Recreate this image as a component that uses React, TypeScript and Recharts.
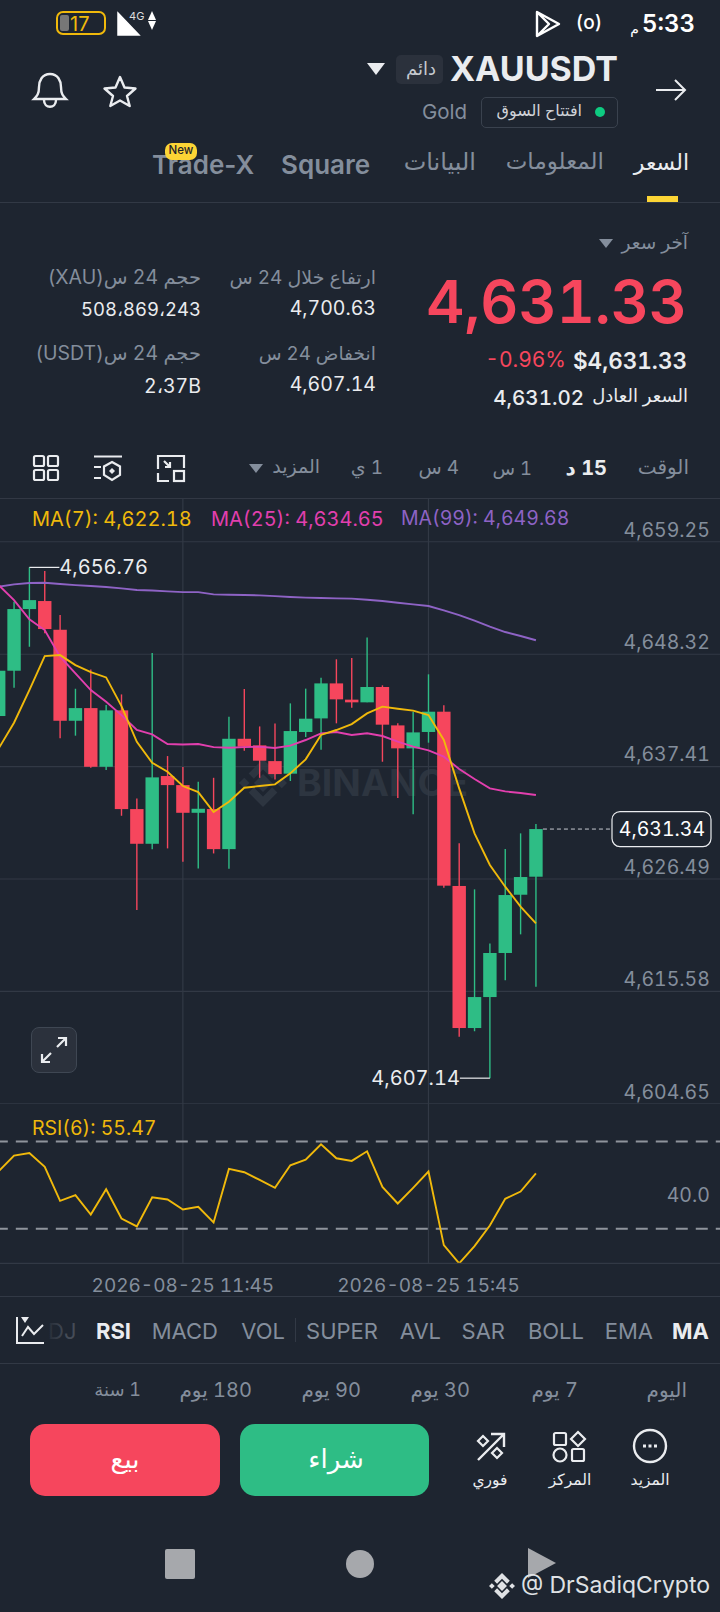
import React from "react";
import {
  ComposedChart,
  Bar,
  Line,
  XAxis,
  YAxis,
  CartesianGrid,
  ReferenceLine,
  ReferenceDot,
} from "recharts";

const times = [
  "08:45", "09:00", "09:15", "09:30", "09:45", "10:00", "10:15", "10:30", "10:45", "11:00", "11:15", "11:30",
  "11:45", "12:00", "12:15", "12:30", "12:45", "13:00", "13:15", "13:30", "13:45", "14:00", "14:15", "14:30",
  "14:45", "15:00", "15:15", "15:30", "15:45", "16:00", "16:15", "16:30", "16:45", "17:00", "17:15", "17:30",
  "17:45", "18:00", "18:15", "18:30", "18:45", "19:00", "19:15", "19:30", "19:45", "20:00", "20:15", "20:30",
];
const opens = [
  4642.32, 4646.72, 4652.71, 4653.49, 4650.7, 4641.86, 4643.09, 4637.39, 4642.87, 4633.28, 4629.91, 4636.49,
  4635.61, 4632.92, 4633.28, 4629.39, 4640.11, 4639.47, 4637.94, 4636.72, 4640.77, 4642.09, 4645.49, 4643.91,
  4643.65, 4645.14, 4641.41, 4639.18, 4640.77, 4642.74, 4625.81, 4612.01, 4615.02, 4619.3, 4624.96, 4626.71,
];
const highs = [
  4647.11, 4653.42, 4656.76, 4656.4, 4652.13, 4644.97, 4646.85, 4643.38, 4644.42, 4634.32, 4648.44, 4638.43,
  4637.36, 4635.94, 4636.32, 4642.25, 4644.94, 4641.31, 4641.6, 4643.55, 4644.98, 4646.04, 4647.83, 4647.96,
  4649.96, 4645.3, 4641.61, 4642.74, 4646.37, 4643.36, 4629.95, 4625.48, 4620.23, 4629.4, 4630.92, 4631.83,
];
const lows = [
  4641.28, 4645.07, 4649.05, 4650.35, 4640.15, 4640.41, 4637.3, 4637.07, 4632.63, 4623.47, 4629.39, 4629.46,
  4628.16, 4627.52, 4628.97, 4627.48, 4638.95, 4636.32, 4636.16, 4636.01, 4640.28, 4639.05, 4641.61, 4643.13,
  4643.65, 4637.88, 4634.35, 4632.77, 4639.73, 4625.64, 4611.17, 4611.69, 4607.14, 4616.64, 4621.11, 4616.03,
];
const closes = [
  4646.72, 4652.71, 4653.58, 4650.77, 4641.86, 4643.09, 4637.39, 4642.87, 4633.28, 4629.91, 4636.36, 4635.61,
  4632.92, 4633.31, 4629.39, 4640.11, 4639.34, 4637.98, 4636.68, 4640.86, 4642.06, 4645.49, 4643.94, 4643.65,
  4645.14, 4641.48, 4639.18, 4640.73, 4642.74, 4625.84, 4612.01, 4615.02, 4619.3, 4624.93, 4626.68, 4631.34,
];
const ma7 = [
  4639.17, 4641.67, 4644.84, 4648.14, 4648.24, 4647.27, 4646.59, 4646.07, 4643.29, 4639.82, 4637.78, 4636.91,
  4635.52, 4634.93, 4633.0, 4634.0, 4635.35, 4635.52, 4635.68, 4636.75, 4638.11, 4640.48, 4640.96, 4641.54,
  4642.58, 4643.23, 4643.03, 4642.84, 4642.42, 4639.99, 4635.29, 4630.92, 4627.85, 4625.74, 4623.8, 4622.18,
];
const ma25 = [
  4655.04, 4653.58, 4651.71, 4650.67, 4648.08, 4646.46, 4644.84, 4643.71, 4642.41, 4640.96, 4640.54, 4639.6,
  4639.56, 4639.6, 4639.3, 4639.24, 4639.3, 4639.34, 4639.21, 4639.44, 4639.99, 4640.64, 4640.77, 4640.48,
  4640.64, 4640.38, 4639.83, 4639.34, 4638.98, 4638.37, 4637.17, 4636.2, 4635.29, 4635.0, 4634.84, 4634.65,
];
const ma99 = [
  4654.88, 4655.11, 4655.24, 4655.27, 4655.14, 4655.04, 4654.95, 4654.85, 4654.72, 4654.56, 4654.52, 4654.43,
  4654.36, 4654.36, 4654.14, 4654.1, 4654.07, 4654.04, 4653.97, 4653.88, 4653.82, 4653.78, 4653.75, 4653.72,
  4653.62, 4653.49, 4653.33, 4653.17, 4653.01, 4652.59, 4652.13, 4651.58, 4651.0, 4650.48, 4650.09, 4649.68,
];
const rsi6 = [
  56.4, 63.58, 64.8, 58.39, 42.81, 45.41, 36.55, 48.16, 34.72, 31.05, 44.49, 43.42,
  38.84, 40.06, 32.88, 57.47, 55.94, 52.43, 48.77, 59.15, 61.75, 68.77, 62.36, 61.14,
  65.57, 49.23, 41.59, 48.77, 56.25, 22.5, 14.1, 22.04, 31.51, 43.73, 47.09, 55.47,
];
const priceTicks = [4659.25, 4648.32, 4637.41, 4626.49, 4615.58, 4604.65];
const rsiTicks = [40];
const timeTicks = ["11:45", "15:45"];

const rows = times.map((time, i) => ({
  time,
  open: opens[i],
  high: highs[i],
  low: lows[i],
  close: closes[i],
  ma7: ma7[i],
  ma25: ma25[i],
  ma99: ma99[i],
  rsi: rsi6[i],
}));

const BG = "#1e2530";
const GREEN = "#2ebd85";
const RED = "#f6465d";
const GRAY = "#848e9c";
const GRID = "#323945";
const LIGHT = "#eaecef";
const YELLOW = "#f0b90b";
const FONT = "Inter, 'DejaVu Sans', sans-serif";

// chart sits a bit off screen so the first candle is cut by the left edge
const CHART_LEFT = -9.36;
const CHART_WIDTH = 736.8;
const LABEL_X = 709.5 - CHART_LEFT;

const fmt = (v: number) => v.toLocaleString("en-US", { minimumFractionDigits: 2, maximumFractionDigits: 2 });

const Candle = (props: any) => {
  const { x, y, width, height, payload } = props;
  if (payload.high == null || !height) return null;
  const ratio = Math.abs(height) / (payload.high - payload.low);
  const top = y + (payload.high - Math.max(payload.open, payload.close)) * ratio;
  const bottom = y + (payload.high - Math.min(payload.open, payload.close)) * ratio;
  const color = payload.close >= payload.open ? GREEN : RED;
  const cx = x + width / 2;
  return (
    <g>
      <line x1={cx} x2={cx} y1={y} y2={y + Math.abs(height)} stroke={color} strokeWidth={1.4} />
      <rect x={x} y={top} width={width} height={Math.max(bottom - top, 1.5)} fill={color} />
    </g>
  );
};

const PriceTick = (props: any) => (
  <text x={LABEL_X} y={props.y - 12} dy="0.35em" textAnchor="end" fill={GRAY} fontSize={19.5} fontFamily={FONT}>
    {props.digits ? props.payload.value.toFixed(props.digits) : fmt(props.payload.value)}
  </text>
);

const HighMark = (props: any) => (
  <g>
    <line x1={props.cx} x2={props.cx + 30} y1={props.cy} y2={props.cy} stroke={LIGHT} strokeWidth={1.2} />
    <text x={props.cx + 30} y={props.cy} dy="0.35em" fill={LIGHT} fontSize={20} fontFamily={FONT}>
      {fmt(highs[2])}
    </text>
  </g>
);

const LowMark = (props: any) => (
  <g>
    <line x1={props.cx} x2={props.cx - 30} y1={props.cy} y2={props.cy} stroke={LIGHT} strokeWidth={1.2} />
    <text x={props.cx - 30} y={props.cy} dy="0.35em" textAnchor="end" fill={LIGHT} fontSize={20} fontFamily={FONT}>
      {fmt(lows[32])}
    </text>
  </g>
);

const LastMark = (props: any) => (
  <g>
    <line x1={props.cx + 7} x2={621} y1={props.cy} y2={props.cy} stroke="#c8ccd2" strokeWidth={1} strokeDasharray="4 3" />
    <rect x={621} y={props.cy - 17.5} width={99} height={35} rx={8} fill={BG} stroke={LIGHT} strokeWidth={1.2} />
    <text x={671} y={props.cy} dy="0.35em" textAnchor="middle" fill="#fff" fontSize={19.5} fontFamily={FONT}>
      {fmt(closes[35])}
    </text>
  </g>
);

function PriceChart() {
  return (
    <ComposedChart
      width={CHART_WIDTH}
      height={605.8}
      data={rows}
      margin={{ top: 0, right: 0, bottom: 0, left: 0 }}
      style={{ position: "absolute", left: CHART_LEFT, top: 498 }}
    >
      <CartesianGrid stroke={GRID} strokeWidth={1.2} />
      <XAxis dataKey="time" ticks={timeTicks} interval={0} height={0} tick={() => <g />} axisLine={false} tickLine={false} />
      <YAxis
        orientation="right"
        mirror
        width={60}
        domain={[4604.65, 4663.5]}
        ticks={priceTicks}
        interval={0}
        allowDataOverflow
        axisLine={false}
        tickLine={false}
        tick={<PriceTick />}
      />
      <Bar
        dataKey={(d: any) => (d.high == null ? null : [d.low, d.high])}
        barSize={13.4}
        shape={<Candle />}
        isAnimationActive={false}
      />
      <Line dataKey="ma99" stroke="#8e63c5" strokeWidth={1.9} dot={false} isAnimationActive={false} />
      <Line dataKey="ma25" stroke="#e23fae" strokeWidth={1.9} dot={false} isAnimationActive={false} />
      <Line dataKey="ma7" stroke={YELLOW} strokeWidth={1.9} dot={false} isAnimationActive={false} />
      <ReferenceDot x={times[2]} y={highs[2]} shape={<HighMark />} />
      <ReferenceDot x={times[32]} y={lows[32]} shape={<LowMark />} />
      <ReferenceDot x={times[35]} y={closes[35]} shape={<LastMark />} />
    </ComposedChart>
  );
}

function RsiChart() {
  return (
    <ComposedChart
      width={CHART_WIDTH}
      height={196.7}
      data={rows}
      margin={{ top: 0, right: 0, bottom: 0, left: 0 }}
      style={{ position: "absolute", left: CHART_LEFT, top: 1103.3 }}
    >
      <CartesianGrid stroke={GRID} strokeWidth={1.2} horizontal={false} />
      <XAxis
        dataKey="time"
        scale="band"
        ticks={timeTicks}
        interval={0}
        height={36.3}
        axisLine={{ stroke: GRID, strokeWidth: 1.2 }}
        tickLine={false}
        tick={{ fill: GRAY, fontSize: 19, fontFamily: FONT }}
        tickMargin={9}
        tickFormatter={(t: string) => `2026-08-25 ${t}`}
      />
      <YAxis
        orientation="right"
        mirror
        width={60}
        domain={[14.1, 87.73]}
        ticks={rsiTicks}
        interval={0}
        allowDataOverflow
        axisLine={false}
        tickLine={false}
        tick={<PriceTick digits={1} />}
      />
      <ReferenceLine y={70} stroke="#8f949c" strokeWidth={2} strokeDasharray="12 8" />
      <ReferenceLine y={30} stroke="#8f949c" strokeWidth={2} strokeDasharray="12 8" />
      <Line dataKey="rsi" stroke={YELLOW} strokeWidth={1.9} dot={false} isAnimationActive={false} />
    </ComposedChart>
  );
}

// absolute text, anchored on its right or left edge and centred on cy
const T = ({ r, l, c, cy, size, color = GRAY, weight = 400, rtl, plain, children }: any) => (
  <div
    dir={rtl ? "rtl" : "ltr"}
    style={{
      position: "absolute",
      top: cy,
      ...(r != null ? { right: 720 - r } : {}),
      ...(l != null ? { left: l } : {}),
      ...(c != null ? { left: c, transform: "translate(-50%,-50%)" } : { transform: "translateY(-50%)" }),
      ...(plain ? { fontVariantNumeric: "normal" } : {}),
      fontSize: size,
      color,
      fontWeight: weight,
      whiteSpace: "nowrap",
      lineHeight: 1.2,
    }}
  >
    {children}
  </div>
);

const Box = ({ x, y, w, h, style }: any) => (
  <div style={{ position: "absolute", left: x, top: y, width: w, height: h, ...style }} />
);

const Svg = ({ x, y, w, h, children }: any) => (
  <svg
    width={w}
    height={h}
    viewBox={`0 0 ${w} ${h}`}
    fill="none"
    style={{ position: "absolute", left: x, top: y, overflow: "visible" }}
  >
    {children}
  </svg>
);

const Tri = ({ x, y, w, h, color }: any) => (
  <Svg x={x} y={y} w={w} h={h}>
    <path d={`M0 0H${w}L${w / 2} ${h}Z`} fill={color} />
  </Svg>
);

const Diamond = ({ cx, cy, size, color }: any) => (
  <Svg x={cx - size} y={cy - size} w={size * 2} h={size * 2}>
    <g fill={color}>
      <path d={`M${size} ${size * 0.62}l${size * 0.38} ${size * 0.38}l${-size * 0.38} ${size * 0.38}l${-size * 0.38} ${-size * 0.38}z`} />
      <path
        d={`M${size} 0l${size * 0.6} ${size * 0.6}l${-size * 0.22} ${size * 0.22}l${-size * 0.38} ${-size * 0.38}l${-size * 0.38} ${size * 0.38}l${-size * 0.22} ${-size * 0.22}z`}
      />
      <path
        d={`M${size} ${size * 2}l${size * 0.6} ${-size * 0.6}l${-size * 0.22} ${-size * 0.22}l${-size * 0.38} ${size * 0.38}l${-size * 0.38} ${-size * 0.38}l${-size * 0.22} ${size * 0.22}z`}
      />
      <path d={`M${size * 0.22} ${size * 0.78}l${size * 0.22} ${size * 0.22}l${-size * 0.22} ${size * 0.22}l${-size * 0.22} ${-size * 0.22}z`} />
      <path d={`M${size * 1.78} ${size * 0.78}l${size * 0.22} ${size * 0.22}l${-size * 0.22} ${size * 0.22}l${-size * 0.22} ${-size * 0.22}z`} />
    </g>
  </Svg>
);

function StatusBar() {
  return (
    <>
      <Box x={56} y={11} w={50} h={24} style={{ border: `2.5px solid ${YELLOW}`, borderRadius: 7, boxSizing: "border-box" }} />
      <Box x={60} y={15} w={9} h={16} style={{ background: "#777", borderRadius: 2 }} />
      <T l={70} cy={24} size={20} color={YELLOW} plain>17</T>
      <Svg x={117} y={12} w={24} h={24}>
        <path d="M1 1L22 23H1Z" stroke="#fff" strokeWidth={1.5} fill="#fff" />
      </Svg>
      <T l={129} cy={17} size={11} color="#ddd">4G</T>
      <Tri x={148} y={21} w={8} h={9} color="#fff" />
      <Svg x={148} y={11} w={8} h={9}>
        <path d="M0 9H8L4 0Z" fill="#fff" />
      </Svg>
      <Svg x={535} y={10} w={26} h={27}>
        <path d="M2 2L24 14L2 26Z M2 2L14 14L2 26" stroke="#fff" strokeWidth={2.4} strokeLinejoin="round" />
      </Svg>
      <T c={589} cy={23} size={19} color="#fff" weight={500}>(o)</T>
      <T r={639} cy={29} size={14} color="#fff" rtl>م</T>
      <T r={695} cy={24} size={24} color="#fff" weight={600}>5:33</T>
    </>
  );
}

function Header() {
  return (
    <>
      <T r={618} cy={69} size={34} color={LIGHT} weight={700}>XAUUSDT</T>
      <Box x={396} y={55} w={47} h={29} style={{ background: "#2b313c", borderRadius: 5 }} />
      <T c={421} cy={69} size={18} color="#c5c9cf" rtl>دائم</T>
      <Tri x={367} y={63} w={18} h={12} color={LIGHT} />
      <Svg x={656} y={79} w={30} h={22}>
        <path d="M0 11H29M19 1L29 11L19 21" stroke={LIGHT} strokeWidth={2} />
      </Svg>
      <Svg x={33} y={72} w={34} h={36}>
        <path
          d="M17 2C9 2 6 9 6 15C6 22 4 24 1 27H33C30 24 28 22 28 15C28 9 25 2 17 2ZM11 28C11 37 23 37 23 28"
          stroke={LIGHT}
          strokeWidth={2.4}
        />
      </Svg>
      <Svg x={103} y={75} w={34} h={32}>
        <path
          d="M17 2L21.5 12.5L32.5 13.5L24 21L26.7 31L17 25.5L7.3 31L10 21L1.5 13.5L12.5 12.5Z"
          stroke={LIGHT}
          strokeWidth={2.4}
          strokeLinejoin="round"
        />
      </Svg>
      <T l={422} cy={112} size={20.5}>Gold</T>
      <Box x={481} y={97} w={137} h={31} style={{ border: "1.5px solid #3a424e", borderRadius: 5, boxSizing: "border-box" }} />
      <T r={582} cy={111} size={16} color="#d0d3d8" rtl>افتتاح السوق</T>
      <Box x={595} y={107} w={10} h={10} style={{ background: "#0ecb81", borderRadius: 5 }} />

      <T r={689} cy={162} size={22} color={LIGHT} rtl>السعر</T>
      <T r={604} cy={162} size={23} rtl>المعلومات</T>
      <T r={476} cy={162} size={24} rtl>البيانات</T>
      <T l={281} cy={165} size={26} weight={600} plain>Square</T>
      <T l={152} cy={165} size={26} weight={600} plain>Trade-X</T>
      <Box x={165} y={143} w={32} h={17} style={{ background: "#fcd535", borderRadius: 7 }} />
      <T c={181} cy={151} size={11.5} color="#1e2329" weight={500}>New</T>
      <Box x={647} y={196} w={31} h={6} style={{ background: "#fcd535" }} />
      <Box x={0} y={201.5} w={720} h={1} style={{ background: GRID }} />
    </>
  );
}

function Stats() {
  return (
    <>
      <T r={688} cy={242} size={18.5} rtl>آخر سعر</T>
      <Tri x={599} y={239} w={14} h={9} color={GRAY} />
      <T r={687} cy={302} size={59} color={RED} weight={600}>4,631.33</T>
      <T r={566} cy={360} size={21} color={RED}>-0.96%</T>
      <T r={687} cy={360} size={22.5} color={LIGHT} weight={600}>$4,631.33</T>
      <T r={584} cy={398} size={20.5} color={LIGHT} weight={500}>4,631.02</T>
      <T r={688} cy={396} size={18} color={LIGHT} rtl>السعر العادل</T>

      <T r={376} cy={278} size={19} rtl>ارتفاع خلال 24 س</T>
      <T r={376} cy={309} size={19.5} color={LIGHT}>4,700.63</T>
      <T r={376} cy={354} size={18.7} rtl>انخفاض 24 س</T>
      <T r={376} cy={385} size={19.5} color={LIGHT}>4,607.14</T>
      <T r={201} cy={278} size={19.5} rtl>حجم 24 س(XAU)</T>
      <T r={201} cy={309} size={18.5} color={LIGHT}>508،869،243</T>
      <T r={201} cy={354} size={19.5} rtl>حجم 24 س(USDT)</T>
      <T r={201} cy={387} size={19.5} color={LIGHT}>2،37B</T>
    </>
  );
}

function Toolbar() {
  return (
    <>
      <T r={689} cy={467} size={20} rtl>الوقت</T>
      <T r={607} cy={468} size={20} color={LIGHT} weight={700} rtl>15 د</T>
      <T r={532} cy={468} size={18.5} rtl>1 س</T>
      <T r={459} cy={468} size={19} rtl>4 س</T>
      <T r={383} cy={468} size={19} rtl>1 ي</T>
      <T r={320} cy={467} size={19} rtl>المزيد</T>
      <Tri x={249} y={464} w={14} h={9} color={GRAY} />
      <Svg x={157} y={455} w={28} h={27}>
        <path
          d="M1 14V1H27V13M12 26H1V18M7 6L13 12M13 7V12H8"
          stroke={LIGHT}
          strokeWidth={2.2}
        />
        <rect x={17} y={16} width={10} height={10} stroke={LIGHT} strokeWidth={2.2} />
      </Svg>
      <Svg x={94} y={455} w={28} h={27}>
        <path d="M0 1.5H28M0 12H7M0 23H7" stroke={LIGHT} strokeWidth={2.2} />
        <path d="M18 7L26 11.5V20L18 25L10 20V11.5Z" stroke={LIGHT} strokeWidth={2.2} />
        <path d="M18 13L21 16L18 19L15 16Z" fill={LIGHT} />
      </Svg>
      <Svg x={33} y={455} w={26} h={26}>
        <rect x={1} y={1} width={10} height={10} rx={1.5} stroke={LIGHT} strokeWidth={2.2} />
        <rect x={15} y={1} width={10} height={10} rx={1.5} stroke={LIGHT} strokeWidth={2.2} />
        <rect x={1} y={15} width={10} height={10} rx={1.5} stroke={LIGHT} strokeWidth={2.2} />
        <rect x={15} y={15} width={10} height={10} rx={1.5} stroke={LIGHT} strokeWidth={2.2} />
      </Svg>
      <Box x={0} y={498} w={720} h={1} style={{ background: GRID }} />
    </>
  );
}

function Watermark() {
  return (
    <>
      <Diamond cx={263} cy={783} size={24} color="#2d3540" />
      <T l={297} cy={782} size={37.5} color="#2d3540" weight={700}>BINANCE</T>
    </>
  );
}

function ChartOverlay() {
  return (
    <>
      <T l={32} cy={519} size={20} color={YELLOW}>MA(7): 4,622.18</T>
      <T l={211} cy={519} size={20} color="#e23fae">MA(25): 4,634.65</T>
      <T l={401} cy={519} size={19.5} color="#8e63c5">MA(99): 4,649.68</T>
      <Box x={31} y={1027} w={46} h={46} style={{ background: "#2b313c", border: "1.5px solid #3f4753", borderRadius: 8, boxSizing: "border-box" }} />
      <Svg x={40} y={1036} w={28} h={28}>
        <path d="M2 26L11 17M2 18V26H10M26 2L17 11M18 2H26V10" stroke={LIGHT} strokeWidth={2.2} />
      </Svg>
      <T l={32} cy={1129} size={19.5} color={YELLOW}>RSI(6): 55.47</T>
    </>
  );
}

const indicators = [
  { label: "MA", r: 709, active: true },
  { label: "EMA", r: 653 },
  { label: "BOLL", r: 584 },
  { label: "SAR", r: 505 },
  { label: "AVL", r: 441 },
  { label: "SUPER", r: 378 },
  { label: "VOL", r: 285 },
  { label: "MACD", r: 218 },
  { label: "RSI", r: 131, active: true },
];
const periods = [
  { label: "اليوم", r: 687, size: 20 },
  { label: "7 يوم", r: 578, size: 20 },
  { label: "30 يوم", r: 470, size: 20 },
  { label: "90 يوم", r: 361, size: 20 },
  { label: "180 يوم", r: 252, size: 20 },
  { label: "1 سنة", r: 141, size: 18 },
];

function BottomBars() {
  return (
    <>
      <Box x={0} y={1296} w={720} h={1} style={{ background: GRID }} />
      {indicators.map((d) => (
        <T key={d.label} r={d.r} cy={1331} size={22} color={d.active ? LIGHT : GRAY} weight={d.active ? 700 : 400}>
          {d.label}
        </T>
      ))}
      <Box x={295} y={1318} w={1} h={24} style={{ background: GRID }} />
      <T l={48} cy={1331} size={22} color="#454c57">DJ</T>
      <Box x={44} y={1315} w={22} h={32} style={{ background: "linear-gradient(90deg,#1e2530,#1e253000)" }} />
      <Svg x={16} y={1317} w={28} h={27}>
        <path d="M1 0V26H28M6 19L12 10L18 17L27 8" stroke={LIGHT} strokeWidth={2} />
        <path d="M5 0H13L9 6Z" fill={LIGHT} />
      </Svg>
      <Box x={0} y={1363} w={720} h={1} style={{ background: GRID }} />
      {periods.map((d) => (
        <T key={d.label} r={d.r} cy={1390} size={d.size} rtl>{d.label}</T>
      ))}

      <Box x={30} y={1424} w={190} h={72} style={{ background: RED, borderRadius: 15 }} />
      <T c={125} cy={1459} size={26} color="#fff" rtl>بيع</T>
      <Box x={240} y={1424} w={189} h={72} style={{ background: GREEN, borderRadius: 15 }} />
      <T c={336} cy={1459} size={26} color="#fff" rtl>شراء</T>

      <Svg x={475} y={1431} w={32} h={32}>
        <path d="M3 29L29 3M16 3H29V16" stroke={LIGHT} strokeWidth={2.4} />
        <path d="M8 5L13 10L8 15L3 10Z M22 17L27 22L22 27L17 22Z" stroke={LIGHT} strokeWidth={2.2} />
      </Svg>
      <T c={490} cy={1480} size={15.5} color={LIGHT} rtl>فوري</T>
      <Svg x={553} y={1431} w={34} h={32}>
        <rect x={1} y={2} width={12} height={12} rx={1.5} stroke={LIGHT} strokeWidth={2.2} />
        <path d="M25 1L32 8L25 15L18 8Z" stroke={LIGHT} strokeWidth={2.2} />
        <circle cx={7} cy={24} r={6.5} stroke={LIGHT} strokeWidth={2.2} />
        <rect x={19} y={18} width={12} height={12} rx={1.5} stroke={LIGHT} strokeWidth={2.2} />
      </Svg>
      <T c={570} cy={1480} size={15.5} color={LIGHT} rtl>المركز</T>
      <Svg x={633} y={1429} w={34} h={34}>
        <circle cx={17} cy={17} r={16} stroke={LIGHT} strokeWidth={2.4} />
        <path d="M10 15.5h3v3h-3zM15.5 15.5h3v3h-3zM21 15.5h3v3h-3z" fill={LIGHT} />
      </Svg>
      <T c={650} cy={1480} size={15.5} color={LIGHT} rtl>المزيد</T>

      <Box x={165} y={1549} w={30} h={30} style={{ background: "#a6a8ac", borderRadius: 2 }} />
      <Box x={346} y={1550} w={28} h={28} style={{ background: "#a6a8ac", borderRadius: 14 }} />
      <Svg x={528} y={1548} w={28} h={30}>
        <path d="M0 0L28 15L0 30Z" fill="#a6a8ac" />
      </Svg>
      <Diamond cx={501.5} cy={1586} size={13} color="#dfe1e4" />
      <T l={521} cy={1586} size={23} color="#dfe1e4">@ DrSadiqCrypto</T>
    </>
  );
}

export default function App() {
  return (
    <div
      style={{
        position: "absolute",
        left: 0,
        top: 0,
        width: 720,
        height: 1612,
        background: BG,
        overflow: "hidden",
        fontFamily: FONT,
        fontVariantNumeric: "tabular-nums",
      }}
    >
      <StatusBar />
      <Header />
      <Stats />
      <Toolbar />
      <Watermark />
      <PriceChart />
      <RsiChart />
      <ChartOverlay />
      <BottomBars />
    </div>
  );
}
